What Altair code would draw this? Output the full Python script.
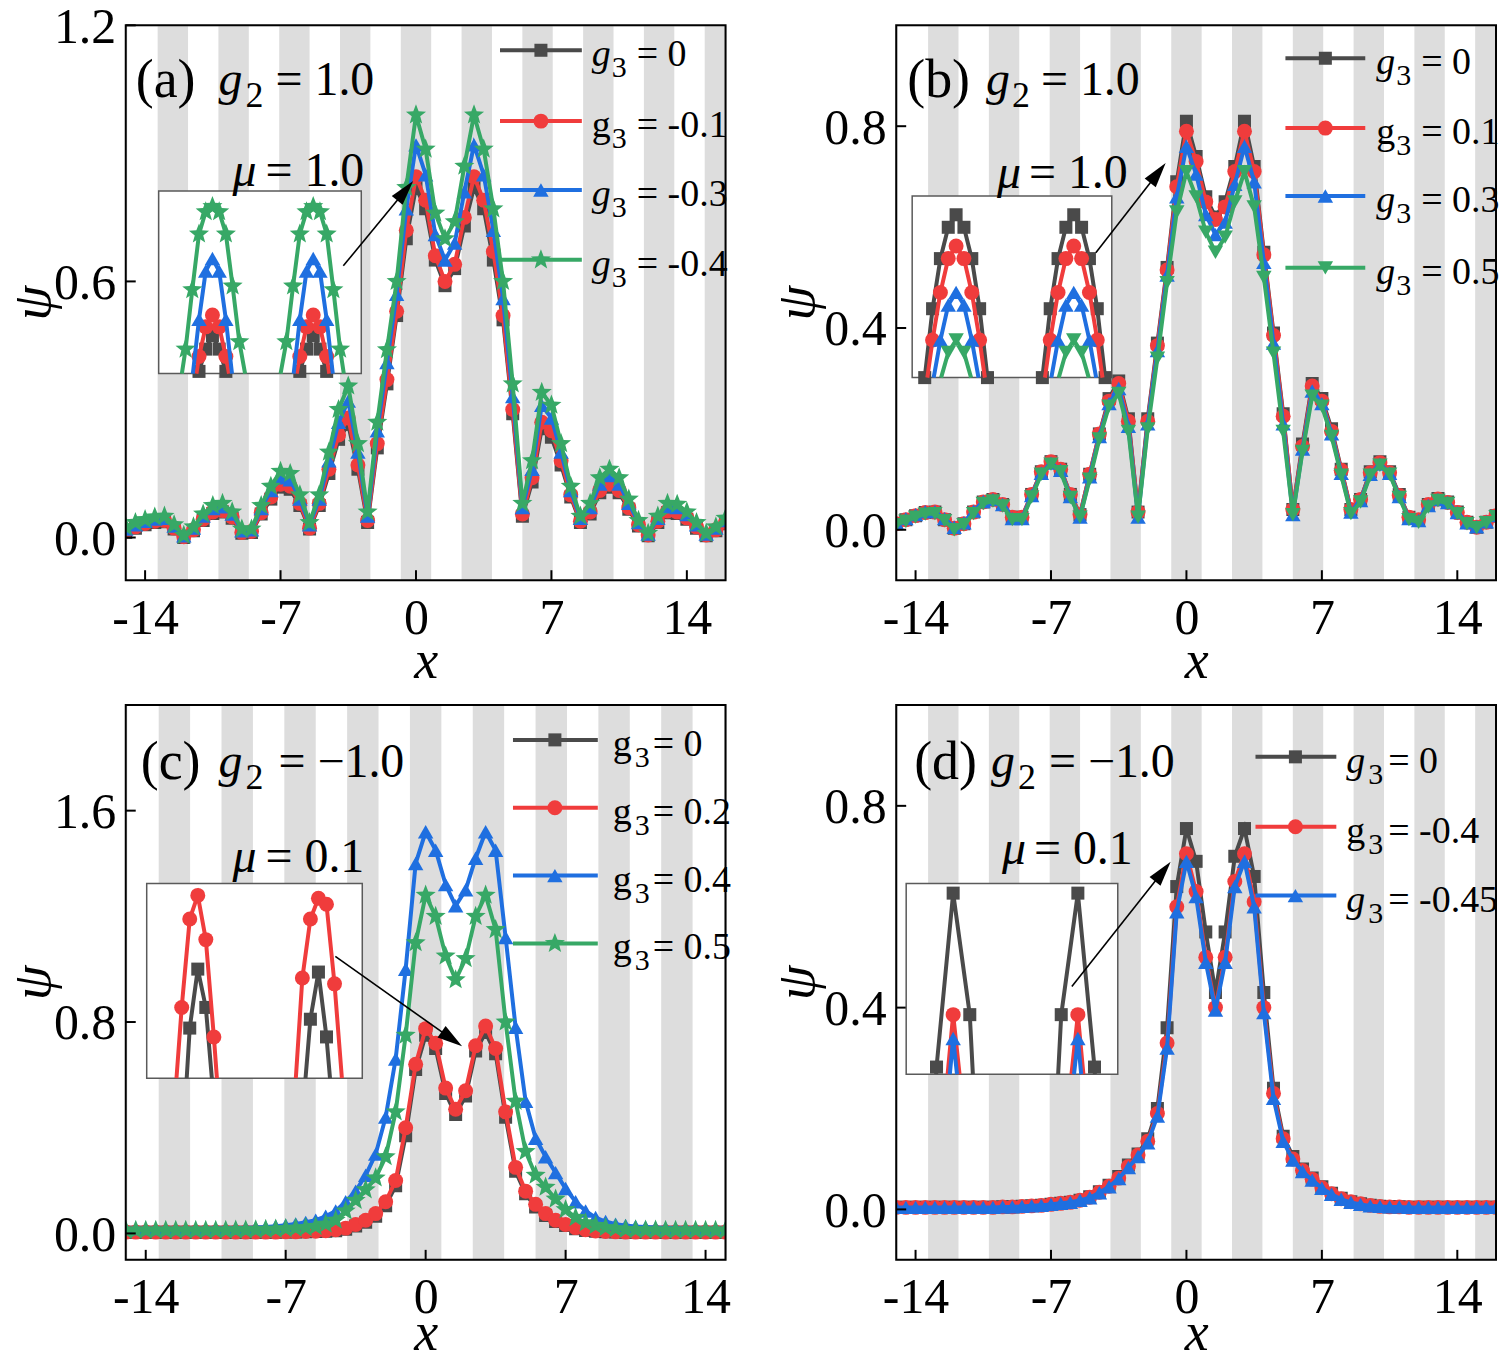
import math
import altair as alt
import pandas as pd

FONT = "Liberation Serif"
W, H = 601, 556
COLORS = {"dark": "#4a4a4a", "red": "#f03c3c", "blue": "#1f6fe0", "green": "#37a866"}
STRIPE = "#dddddd"
STAR = "M0,-1L0.25,-0.35L0.95,-0.31L0.4,0.13L0.59,0.81L0,0.42L-0.59,0.81L-0.4,0.13L-0.95,-0.31L-0.25,-0.35Z"
ARROWHEAD = "M0,-1L0.5,0.8L-0.5,0.8Z"
SHAPES = {"square": "square", "circle": "circle", "tri": "triangle-up", "tridown": "triangle-down", "star": STAR}
SIZES = {"square": 170, "circle": 225, "tri": 240, "tridown": 240, "star": 450}

XTICKS = [-14, -7, 0, 7, 14]
STRIPE_K = [-5, -4, -3, -2, -1, 0, 1, 2, 3, 4, 5]

# sampling grid of the curves (x)
X_ABD = [round(-15 + 0.5 * i, 1) for i in range(63)]
X_C = [round(-15 + 0.5 * i, 1) for i in range(61)]

# ---------------- panel (a): g2 = 1.0, mu = 1.0 ----------------
A_G3_0 = [0.012, 0.022, 0.030, 0.035, 0.037, 0.020, 0.000, 0.016, 0.040, 0.056,
          0.060, 0.045, 0.010, 0.012, 0.055, 0.090, 0.118, 0.113, 0.075, 0.020,
          0.075, 0.150, 0.230, 0.265, 0.160, 0.035, 0.210, 0.360, 0.520, 0.700,
          0.820, 0.770, 0.650, 0.590, 0.630, 0.730, 0.820, 0.770, 0.650, 0.510,
          0.290, 0.050, 0.130, 0.255, 0.235, 0.170, 0.095, 0.035, 0.055, 0.105,
          0.118, 0.105, 0.066, 0.027, 0.004, 0.035, 0.058, 0.056, 0.043, 0.022,
          0.004, 0.016, 0.032]
A_G3_M01 = [0.015, 0.025, 0.033, 0.038, 0.040, 0.022, 0.002, 0.018, 0.043, 0.060,
            0.063, 0.048, 0.012, 0.014, 0.058, 0.095, 0.125, 0.120, 0.080, 0.022,
            0.080, 0.160, 0.240, 0.280, 0.170, 0.040, 0.220, 0.370, 0.530, 0.720,
            0.845, 0.790, 0.660, 0.600, 0.640, 0.750, 0.845, 0.790, 0.670, 0.520,
            0.300, 0.055, 0.140, 0.270, 0.250, 0.180, 0.100, 0.038, 0.060, 0.110,
            0.125, 0.110, 0.070, 0.030, 0.006, 0.038, 0.062, 0.060, 0.046, 0.025,
            0.006, 0.018, 0.035]
A_G3_M03 = [0.020, 0.030, 0.038, 0.043, 0.045, 0.027, 0.004, 0.022, 0.050, 0.068,
            0.072, 0.055, 0.016, 0.018, 0.068, 0.110, 0.140, 0.135, 0.090, 0.030,
            0.090, 0.180, 0.270, 0.320, 0.200, 0.050, 0.250, 0.410, 0.570, 0.770,
            0.920, 0.850, 0.710, 0.650, 0.690, 0.810, 0.920, 0.850, 0.720, 0.560,
            0.330, 0.070, 0.160, 0.310, 0.280, 0.200, 0.110, 0.045, 0.070, 0.125,
            0.145, 0.125, 0.080, 0.035, 0.008, 0.045, 0.072, 0.070, 0.054, 0.030,
            0.008, 0.022, 0.040]
A_G3_M04 = [0.025, 0.035, 0.042, 0.048, 0.050, 0.030, 0.005, 0.025, 0.055, 0.075,
            0.080, 0.060, 0.020, 0.020, 0.075, 0.120, 0.155, 0.150, 0.100, 0.035,
            0.100, 0.200, 0.300, 0.355, 0.220, 0.060, 0.270, 0.440, 0.600, 0.820,
            0.990, 0.910, 0.760, 0.700, 0.740, 0.870, 0.990, 0.910, 0.770, 0.600,
            0.360, 0.080, 0.180, 0.340, 0.310, 0.220, 0.120, 0.050, 0.080, 0.140,
            0.160, 0.140, 0.090, 0.040, 0.010, 0.050, 0.080, 0.078, 0.060, 0.035,
            0.010, 0.025, 0.045]

# ---------------- panel (b): g2 = 1.0, mu = 1.0 ----------------
B_G3_0 = [0.012, 0.020, 0.028, 0.034, 0.035, 0.020, 0.003, 0.012, 0.035, 0.055,
          0.060, 0.050, 0.025, 0.025, 0.070, 0.115, 0.135, 0.120, 0.070, 0.030,
          0.110, 0.190, 0.260, 0.295, 0.220, 0.035, 0.220, 0.370, 0.520, 0.690,
          0.810, 0.740, 0.660, 0.620, 0.650, 0.720, 0.810, 0.720, 0.550, 0.390,
          0.230, 0.040, 0.170, 0.290, 0.260, 0.200, 0.120, 0.040, 0.060, 0.115,
          0.135, 0.115, 0.070, 0.025, 0.020, 0.050, 0.062, 0.055, 0.035, 0.015,
          0.005, 0.015, 0.028]
B_G3_01 = [0.012, 0.020, 0.028, 0.034, 0.035, 0.020, 0.003, 0.012, 0.035, 0.055,
           0.060, 0.050, 0.025, 0.025, 0.070, 0.115, 0.135, 0.120, 0.070, 0.030,
           0.110, 0.190, 0.255, 0.290, 0.215, 0.035, 0.215, 0.365, 0.515, 0.680,
           0.790, 0.730, 0.650, 0.615, 0.640, 0.710, 0.790, 0.710, 0.545, 0.385,
           0.225, 0.040, 0.165, 0.285, 0.255, 0.195, 0.118, 0.040, 0.060, 0.113,
           0.133, 0.113, 0.068, 0.025, 0.020, 0.050, 0.061, 0.054, 0.034, 0.015,
           0.005, 0.015, 0.028]
B_G3_03 = [0.014, 0.022, 0.030, 0.036, 0.036, 0.022, 0.005, 0.014, 0.037, 0.056,
           0.060, 0.050, 0.022, 0.022, 0.068, 0.112, 0.132, 0.118, 0.066, 0.025,
           0.105, 0.185, 0.250, 0.280, 0.205, 0.025, 0.210, 0.355, 0.505, 0.660,
           0.760, 0.705, 0.625, 0.585, 0.610, 0.685, 0.760, 0.690, 0.530, 0.370,
           0.210, 0.030, 0.160, 0.275, 0.250, 0.190, 0.112, 0.035, 0.058, 0.110,
           0.130, 0.112, 0.066, 0.022, 0.018, 0.048, 0.060, 0.054, 0.034, 0.014,
           0.006, 0.016, 0.028]
B_G3_05 = [0.010, 0.017, 0.025, 0.031, 0.032, 0.018, 0.000, 0.010, 0.032, 0.052,
           0.057, 0.047, 0.020, 0.020, 0.065, 0.110, 0.130, 0.115, 0.064, 0.025,
           0.100, 0.180, 0.245, 0.270, 0.195, 0.025, 0.200, 0.340, 0.490, 0.630,
           0.710, 0.660, 0.590, 0.550, 0.580, 0.650, 0.710, 0.640, 0.500, 0.350,
           0.195, 0.030, 0.155, 0.265, 0.245, 0.185, 0.108, 0.032, 0.055, 0.108,
           0.128, 0.110, 0.064, 0.020, 0.015, 0.045, 0.058, 0.052, 0.032, 0.012,
           0.004, 0.014, 0.026]

# ---------------- panel (c): g2 = -1.0, mu = 0.1 ----------------
C_G3_0 = [0.004, 0.004, 0.004, 0.004, 0.004, 0.004, 0.004, 0.004, 0.004, 0.004,
          0.004, 0.004, 0.004, 0.004, 0.004, 0.004, 0.005, 0.005, 0.006, 0.007,
          0.008, 0.010, 0.016, 0.028, 0.042, 0.065, 0.105, 0.180, 0.370, 0.620,
          0.750, 0.700, 0.530, 0.450, 0.520, 0.690, 0.760, 0.680, 0.440, 0.235,
          0.150, 0.100, 0.068, 0.045, 0.030, 0.018, 0.011, 0.008, 0.006, 0.005,
          0.004, 0.004, 0.004, 0.004, 0.004, 0.004, 0.004, 0.004, 0.004, 0.004,
          0.004]
C_G3_02 = [0.005, 0.005, 0.005, 0.005, 0.005, 0.005, 0.005, 0.005, 0.005, 0.005,
           0.005, 0.005, 0.005, 0.005, 0.005, 0.005, 0.006, 0.006, 0.007, 0.008,
           0.010, 0.014, 0.020, 0.034, 0.050, 0.075, 0.120, 0.200, 0.400, 0.640,
           0.775, 0.720, 0.550, 0.470, 0.540, 0.710, 0.785, 0.700, 0.460, 0.250,
           0.160, 0.110, 0.075, 0.050, 0.034, 0.022, 0.014, 0.009, 0.007, 0.006,
           0.005, 0.005, 0.005, 0.005, 0.005, 0.005, 0.005, 0.005, 0.005, 0.005,
           0.005]
C_G3_04 = [0.018, 0.018, 0.018, 0.018, 0.018, 0.018, 0.018, 0.018, 0.018, 0.019,
           0.019, 0.020, 0.021, 0.022, 0.024, 0.027, 0.031, 0.036, 0.042, 0.050,
           0.065, 0.085, 0.120, 0.160, 0.220, 0.300, 0.440, 0.660, 1.000, 1.400,
           1.520, 1.450, 1.320, 1.240, 1.300, 1.420, 1.520, 1.450, 1.120, 0.780,
           0.500, 0.360, 0.290, 0.230, 0.170, 0.120, 0.085, 0.060, 0.045, 0.035,
           0.030, 0.026, 0.024, 0.022, 0.021, 0.020, 0.019, 0.019, 0.018, 0.018,
           0.018]
C_G3_05 = [0.012, 0.012, 0.012, 0.012, 0.012, 0.012, 0.012, 0.012, 0.012, 0.012,
           0.012, 0.013, 0.013, 0.014, 0.015, 0.016, 0.018, 0.020, 0.022, 0.026,
           0.035, 0.050, 0.085, 0.125, 0.165, 0.210, 0.290, 0.460, 0.750, 1.100,
           1.280, 1.200, 1.050, 0.960, 1.040, 1.200, 1.280, 1.150, 0.800, 0.500,
           0.310, 0.220, 0.175, 0.130, 0.090, 0.060, 0.040, 0.030, 0.022, 0.018,
           0.015, 0.014, 0.013, 0.013, 0.012, 0.012, 0.012, 0.012, 0.012, 0.012,
           0.012]

# ---------------- panel (d): g2 = -1.0, mu = 0.1 ----------------
D_G3_0 = [0.004, 0.004, 0.004, 0.004, 0.004, 0.004, 0.004, 0.004, 0.004, 0.004,
          0.004, 0.005, 0.005, 0.006, 0.007, 0.008, 0.010, 0.012, 0.014, 0.018,
          0.025, 0.035, 0.048, 0.065, 0.088, 0.110, 0.140, 0.200, 0.360, 0.640,
          0.755, 0.690, 0.550, 0.430, 0.550, 0.700, 0.755, 0.660, 0.430, 0.240,
          0.145, 0.105, 0.080, 0.062, 0.045, 0.032, 0.022, 0.015, 0.011, 0.008,
          0.006, 0.005, 0.005, 0.004, 0.004, 0.004, 0.004, 0.004, 0.004, 0.004,
          0.004, 0.004, 0.004]
D_G3_M04 = [0.004, 0.004, 0.004, 0.004, 0.004, 0.004, 0.004, 0.004, 0.004, 0.004,
            0.004, 0.005, 0.005, 0.006, 0.007, 0.008, 0.010, 0.012, 0.014, 0.018,
            0.024, 0.034, 0.046, 0.062, 0.085, 0.108, 0.135, 0.190, 0.330, 0.600,
            0.705, 0.630, 0.500, 0.400, 0.500, 0.650, 0.705, 0.610, 0.400, 0.230,
            0.140, 0.100, 0.077, 0.060, 0.043, 0.031, 0.021, 0.015, 0.011, 0.008,
            0.006, 0.005, 0.005, 0.004, 0.004, 0.004, 0.004, 0.004, 0.004, 0.004,
            0.004, 0.004, 0.004]
D_G3_M045 = [0.004, 0.004, 0.004, 0.004, 0.004, 0.004, 0.004, 0.004, 0.004, 0.004,
             0.004, 0.005, 0.005, 0.006, 0.007, 0.008, 0.010, 0.012, 0.014, 0.018,
             0.023, 0.033, 0.045, 0.061, 0.083, 0.105, 0.132, 0.185, 0.320, 0.590,
             0.690, 0.620, 0.490, 0.395, 0.490, 0.640, 0.690, 0.600, 0.390, 0.220,
             0.135, 0.098, 0.075, 0.058, 0.042, 0.030, 0.020, 0.014, 0.010, 0.007,
             0.006, 0.005, 0.005, 0.004, 0.004, 0.004, 0.004, 0.004, 0.004, 0.004,
             0.004, 0.004, 0.004]

# ---------------- insets: zoom on the two central peaks ----------------
I_X = [-1.0, -0.8, -0.6, -0.4, -0.2, 0.0, 0.2, 0.4, 0.6, 0.8, 1.0,
       2.0, 2.2, 2.4, 2.6, 2.8, 3.0, 3.2, 3.4, 3.6, 3.8, 4.0]
IA_DARK = [0.59, 0.65, 0.72, 0.77, 0.80, 0.818, 0.80, 0.77, 0.73, 0.66, 0.60,
           0.60, 0.66, 0.73, 0.77, 0.80, 0.818, 0.80, 0.77, 0.72, 0.65, 0.59]
IA_RED = [0.60, 0.66, 0.73, 0.79, 0.83, 0.846, 0.83, 0.79, 0.74, 0.67, 0.61,
          0.61, 0.67, 0.74, 0.79, 0.83, 0.846, 0.83, 0.79, 0.73, 0.66, 0.60]
IA_BLUE = [0.55, 0.66, 0.76, 0.84, 0.905, 0.922, 0.905, 0.84, 0.76, 0.67, 0.56,
           0.56, 0.67, 0.76, 0.84, 0.905, 0.922, 0.905, 0.84, 0.76, 0.66, 0.55]
IA_GREEN = [0.74, 0.80, 0.88, 0.955, 0.985, 0.992, 0.985, 0.955, 0.885, 0.81, 0.76,
            0.76, 0.81, 0.885, 0.955, 0.985, 0.992, 0.985, 0.955, 0.88, 0.80, 0.74]
IB_DARK = [0.62, 0.68, 0.735, 0.775, 0.80, 0.81, 0.80, 0.775, 0.735, 0.68, 0.62,
           0.62, 0.68, 0.735, 0.775, 0.80, 0.81, 0.80, 0.775, 0.735, 0.68, 0.62]
IB_RED = [0.61, 0.665, 0.71, 0.748, 0.775, 0.785, 0.775, 0.748, 0.71, 0.665, 0.61,
          0.61, 0.665, 0.71, 0.748, 0.775, 0.785, 0.775, 0.748, 0.71, 0.665, 0.61]
IB_BLUE = [0.57, 0.63, 0.675, 0.71, 0.738, 0.748, 0.738, 0.71, 0.675, 0.63, 0.57,
           0.57, 0.63, 0.675, 0.71, 0.738, 0.748, 0.738, 0.71, 0.675, 0.63, 0.57]
IB_GREEN = [0.55, 0.60, 0.645, 0.678, 0.70, 0.71, 0.70, 0.678, 0.645, 0.60, 0.55,
            0.55, 0.60, 0.645, 0.678, 0.70, 0.71, 0.70, 0.678, 0.645, 0.60, 0.55]
IC_DARK = [0.50, 0.57, 0.64, 0.69, 0.735, 0.755, 0.742, 0.71, 0.66, 0.60, 0.54,
           0.54, 0.60, 0.66, 0.705, 0.738, 0.754, 0.732, 0.70, 0.65, 0.59, 0.52]
IC_RED = [0.62, 0.66, 0.705, 0.742, 0.772, 0.780, 0.765, 0.732, 0.695, 0.65, 0.60,
          0.62, 0.67, 0.71, 0.752, 0.772, 0.779, 0.777, 0.750, 0.715, 0.67, 0.62]
ID_X = [-1.2, -0.8, -0.4, 0.0, 0.4, 0.8, 2.2, 2.6, 3.0, 3.4, 3.8]
ID_DARK = [0.45, 0.55, 0.683, 0.756, 0.705, 0.57, 0.57, 0.705, 0.756, 0.683, 0.55]
ID_RED = [0.42, 0.52, 0.63, 0.705, 0.64, 0.53, 0.53, 0.64, 0.705, 0.63, 0.52]
ID_BLUE = [0.41, 0.51, 0.62, 0.695, 0.63, 0.52, 0.52, 0.63, 0.695, 0.62, 0.51]

NEG = "datum.value < 0 ? '-' + abs(datum.value) : '' + datum.value"

PANELS = [
    dict(x=X_ABD, xdom=[-15, 16], ydom=[-0.1, 1.2], yticks=[0, 0.6, 1.2], psix=-93, titley=97,
         series=[("dark", "square", A_G3_0), ("red", "circle", A_G3_M01),
                 ("blue", "tri", A_G3_M03), ("green", "star", A_G3_M04)],
         inset=dict(px=[33, 236], py=[166, 349], xd=[-1.6, 4.43], yd=[0.767, 1.013], x=I_X,
                    series=[("dark", "square", IA_DARK), ("red", "circle", IA_RED),
                            ("blue", "tri", IA_BLUE), ("green", "star", IA_GREEN)]),
         legend=dict(x0=375, x1=457, xm=416, ys=[25, 96, 165, 235], gx=467, sx=487, ex=512,
                     eqs=["= 0", "= -0.1", "= -0.3", "= -0.4"], ital=[True, False, True, True]),
         texts=[("(a)", 10, 72, 54, False), ("g", 93, 70, 48, True), ("2", 120, 82, 36, False),
                ("= 1.0", 150, 70, 48, False), ("\u03bc", 107, 161, 48, True), ("= 1.0", 140, 161, 48, False)],
         arrow=[218, 241, 288, 156]),
    dict(x=X_ABD, xdom=[-15, 16], ydom=[-0.1, 1.0], yticks=[0, 0.4, 0.8], psix=-100, titley=97,
         series=[("dark", "square", B_G3_0), ("red", "circle", B_G3_01),
                 ("blue", "tri", B_G3_03), ("green", "tridown", B_G3_05)],
         inset=dict(px=[16, 216], py=[171, 353], xd=[-1.12, 3.97], yd=[0.68, 0.825], x=I_X,
                    series=[("dark", "square", IB_DARK), ("red", "circle", IB_RED),
                            ("blue", "tri", IB_BLUE), ("green", "tridown", IB_GREEN)]),
         legend=dict(x0=390, x1=470, xm=430, ys=[33, 103, 171, 243], gx=481, sx=501, ex=526,
                     eqs=["= 0", "= 0.1", "= 0.3", "= 0.5"], ital=[True, False, True, True]),
         texts=[("(b)", 11, 72, 54, False), ("g", 90, 70, 48, True), ("2", 116, 82, 36, False),
                ("= 1.0", 145, 70, 48, False), ("\u03bc", 101, 163, 48, True), ("= 1.0", 133, 163, 48, False)],
         arrow=[200, 228, 270, 138]),
    dict(x=X_C, xdom=[-15, 15], ydom=[-0.1, 2.0], yticks=[0, 0.8, 1.6], psix=-93, titley=90,
         series=[("dark", "square", C_G3_0), ("red", "circle", C_G3_02),
                 ("blue", "tri", C_G3_04), ("green", "star", C_G3_05)],
         inset=dict(px=[21, 237], py=[179, 374], xd=[-1.27, 4.09], yd=[0.718, 0.784], x=I_X,
                    series=[("dark", "square", IC_DARK), ("red", "circle", IC_RED)]),
         legend=dict(x0=388, x1=473, xm=430, ys=[35, 103, 171, 239], gx=488, sx=510, ex=528,
                     eqs=["= 0", "= 0.2", "= 0.4", "= 0.5"], ital=[False, False, False, False]),
         texts=[("(c)", 15, 74, 54, False), ("g", 93, 72, 48, True), ("2", 120, 84, 36, False),
                ("= \u22121.0", 153, 72, 48, False), ("\u03bc", 107, 167, 48, True), ("= 0.1", 140, 167, 48, False)],
         arrow=[210, 252, 337, 342]),
    dict(x=X_ABD, xdom=[-15, 16], ydom=[-0.1, 1.0], yticks=[0, 0.4, 0.8], psix=-100, titley=90,
         series=[("dark", "square", D_G3_0), ("red", "circle", D_G3_M04),
                 ("blue", "tri", D_G3_M045)],
         inset=dict(px=[10, 222], py=[179, 370], xd=[-1.13, 3.96], yd=[0.68, 0.76], x=ID_X,
                    series=[("dark", "square", ID_DARK), ("red", "circle", ID_RED),
                            ("blue", "tri", ID_BLUE)]),
         legend=dict(x0=360, x1=441, xm=400, ys=[52, 122, 191], gx=451, sx=473, ex=493,
                     eqs=["= 0", "= -0.4", "= -0.45"], ital=[True, False, True]),
         texts=[("(d)", 18, 74, 54, False), ("g", 95, 72, 48, True), ("2", 122, 84, 36, False),
                ("= \u22121.0", 153, 72, 48, False), ("\u03bc", 106, 159, 48, True), ("= 0.1", 138, 159, 48, False)],
         arrow=[176, 282, 275, 157]),
]


def clip_seg(p0, p1, xmin, xmax, ymin, ymax):
    x0, y0 = p0
    x1, y1 = p1
    dx, dy = x1 - x0, y1 - y0
    t0, t1 = 0.0, 1.0
    for p, q in ((-dx, x0 - xmin), (dx, xmax - x0), (-dy, y0 - ymin), (dy, ymax - y0)):
        if p == 0:
            if q < 0:
                return None
        else:
            t = q / p
            if p < 0:
                if t > t1:
                    return None
                t0 = max(t0, t)
            else:
                if t < t0:
                    return None
                t1 = min(t1, t)
    return (x0 + t0 * dx, y0 + t0 * dy), (x0 + t1 * dx, y0 + t1 * dy)


def clip_runs(xs, ys, box):
    runs, cur = [], []
    for i in range(len(xs) - 1):
        r = clip_seg((xs[i], ys[i]), (xs[i + 1], ys[i + 1]), *box)
        if r is None:
            if cur:
                runs.append(cur)
                cur = []
            continue
        a, b = r
        if cur and abs(cur[-1][0] - a[0]) < 1e-9 and abs(cur[-1][1] - a[1]) < 1e-9:
            cur.append(b)
        else:
            if cur:
                runs.append(cur)
            cur = [a, b]
    if cur:
        runs.append(cur)
    return runs


def build_panel(p):
    xsc = alt.Scale(domain=p["xdom"], nice=False, zero=False)
    ysc = alt.Scale(domain=p["ydom"], nice=False, zero=False)
    xax = alt.Axis(values=XTICKS, tickSize=0, domain=False, grid=False, labelFont=FONT,
                   labelFontSize=50, labelColor="black", labelPadding=13, labelExpr=NEG,
                   labelFlush=False, labelOverlap=False, title="x", titleFont=FONT,
                   titleFontSize=54, titleFontStyle="italic", titleFontWeight="normal",
                   titleColor="black", titleBaseline="alphabetic", titleY=p["titley"])
    yax = alt.Axis(values=p["yticks"], format=".1f", tickSize=0, domain=False, grid=False,
                   labelFont=FONT, labelFontSize=50, labelColor="black", labelPadding=10,
                   labelBaseline="alphabetic", labelOffset=17,
                   labelFlush=False, labelOverlap=False, title="\u03c8", titleFont=FONT,
                   titleFontSize=56, titleFontStyle="italic", titleFontWeight="normal",
                   titleColor="black", titleAngle=270, titleX=p["psix"], titleY=H / 2,
                   titleAlign="center", titleBaseline="middle")

    def X(f):
        return alt.X(f, type="quantitative", scale=xsc, axis=xax)

    def Y(f):
        return alt.Y(f, type="quantitative", scale=ysc, axis=yax)

    sdf = pd.DataFrame({"x1": [k * math.pi - math.pi / 4 for k in STRIPE_K],
                        "x2": [k * math.pi + math.pi / 4 for k in STRIPE_K]})
    main = [alt.Chart(sdf).mark_rect(color=STRIPE, clip=True).encode(
        x=X("x1"), x2="x2:Q", y=alt.value(0), y2=alt.value(H))]
    for col, shp, vals in p["series"]:
        df = pd.DataFrame({"x": p["x"], "v": vals})
        main.append(alt.Chart(df).mark_line(color=COLORS[col], strokeWidth=4, clip=True)
                    .encode(x=X("x"), y=Y("v")))
        main.append(alt.Chart(df).mark_point(shape=SHAPES[shp], size=SIZES[shp], filled=True,
                                             opacity=1, color=COLORS[col], clip=True)
                    .encode(x=X("x"), y=Y("v")))
    tx = pd.DataFrame({"t": XTICKS})
    ty = pd.DataFrame({"t": p["yticks"]})
    main.append(alt.Chart(tx).mark_rule(color="black", strokeWidth=2).encode(
        x=X("t"), y=alt.value(H - 10), y2=alt.value(H)))
    main.append(alt.Chart(ty).mark_rule(color="black", strokeWidth=2).encode(
        y=Y("t"), x=alt.value(0), x2=alt.value(10)))
    main_layer = alt.layer(*main)

    # inset (zoom of the two central peaks)
    ins = p["inset"]
    isx = alt.Scale(domain=ins["xd"], range=ins["px"], nice=False, zero=False)
    isy = alt.Scale(domain=ins["yd"], range=[ins["py"][1], ins["py"][0]], nice=False, zero=False)

    def IX(f):
        return alt.X(f, type="quantitative", scale=isx, axis=None)

    def IY(f):
        return alt.Y(f, type="quantitative", scale=isy, axis=None)

    fdf = pd.DataFrame({"a": [ins["xd"][0]], "b": [ins["xd"][1]], "c": [ins["yd"][0]], "d": [ins["yd"][1]]})
    inset = [alt.Chart(fdf).mark_rect(fill="white", stroke="#5a5a5a", strokeWidth=1.5).encode(
        x=IX("a"), x2="b:Q", y=IY("c"), y2="d:Q")]
    box = (ins["xd"][0], ins["xd"][1], ins["yd"][0], ins["yd"][1])
    for col, shp, vals in ins["series"]:
        runs = clip_runs(ins["x"], vals, box)
        rows = []
        for ri, run in enumerate(runs):
            for oi, (xx, yy) in enumerate(run):
                rows.append({"x": xx, "v": yy, "run": ri, "o": oi})
        if rows:
            ldf = pd.DataFrame(rows)
            inset.append(alt.Chart(ldf).mark_line(color=COLORS[col], strokeWidth=4).encode(
                x=IX("x"), y=IY("v"), detail="run:N", order="o:Q"))
        pts = [{"x": xx, "v": yy} for xx, yy in zip(ins["x"], vals)
               if box[0] <= xx <= box[1] and box[2] <= yy <= box[3]]
        if pts:
            inset.append(alt.Chart(pd.DataFrame(pts)).mark_point(
                shape=SHAPES[shp], size=SIZES[shp], filled=True, opacity=1, color=COLORS[col])
                .encode(x=IX("x"), y=IY("v")))
    inset_layer = alt.layer(*inset)

    # overlay: frame, legend, labels, arrow (pixel coordinates of the plot area)
    ox = alt.Scale(domain=[0, W], range=[0, W], nice=False, zero=False)
    oy = alt.Scale(domain=[0, H], range=[0, H], nice=False, zero=False)

    def OX(f):
        return alt.X(f, type="quantitative", scale=ox, axis=None)

    def OY(f):
        return alt.Y(f, type="quantitative", scale=oy, axis=None)

    lg = p["legend"]
    lrows, trows = [], []
    for (col, shp, _), ly, eq, it in zip(p["series"], lg["ys"], lg["eqs"], lg["ital"]):
        lrows.append({"x0": lg["x0"], "x1": lg["x1"], "xm": lg["xm"], "y": ly,
                      "col": COLORS[col], "shp": SHAPES[shp], "sz": SIZES[shp]})
        trows.append({"tx": lg["gx"], "ty": ly + 16, "t": "g", "fs": 38, "it": it})
        trows.append({"tx": lg["sx"], "ty": ly + 27, "t": "3", "fs": 30, "it": False})
        trows.append({"tx": lg["ex"], "ty": ly + 16, "t": eq, "fs": 38, "it": False})
    for t, xx, yy, fs, it in p["texts"]:
        trows.append({"tx": xx, "ty": yy, "t": t, "fs": fs, "it": it})
    ldf = pd.DataFrame(lrows)
    tdf = pd.DataFrame(trows)
    ax0, ay0, ax1, ay1 = p["arrow"]
    L = math.hypot(ax1 - ax0, ay1 - ay0)
    ux, uy = (ax1 - ax0) / L, (ay1 - ay0) / L
    cx, cy = ax1 - 14 * ux, ay1 - 14 * uy
    ang = math.degrees(math.atan2(ux, -uy)) % 360
    adf = pd.DataFrame({"x0": [ax0], "y0": [ay0], "x1": [cx], "y1": [cy]})

    over = [
        alt.Chart(ldf).mark_rule(strokeWidth=4).encode(
            x=OX("x0"), x2="x1:Q", y=OY("y"), color=alt.Color("col:N", scale=None)),
        alt.Chart(ldf).mark_point(filled=True, opacity=1).encode(
            x=OX("xm"), y=OY("y"), color=alt.Color("col:N", scale=None),
            shape=alt.Shape("shp:N", scale=None), size=alt.Size("sz:Q", scale=None)),
        alt.Chart(tdf).transform_filter("!datum.it").mark_text(
            font=FONT, align="left", baseline="alphabetic", color="black").encode(
            x=OX("tx"), y=OY("ty"), text="t:N", size=alt.Size("fs:Q", scale=None)),
        alt.Chart(tdf).transform_filter("datum.it").mark_text(
            font=FONT, fontStyle="italic", align="left", baseline="alphabetic", color="black").encode(
            x=OX("tx"), y=OY("ty"), text="t:N", size=alt.Size("fs:Q", scale=None)),
        alt.Chart(adf).mark_rule(color="black", strokeWidth=1.6).encode(
            x=OX("x0"), x2="x1:Q", y=OY("y0"), y2="y1:Q"),
        alt.Chart(adf).mark_point(shape=ARROWHEAD, size=784, filled=True, opacity=1,
                                  color="black", angle=ang).encode(x=OX("x1"), y=OY("y1")),
        alt.Chart(pd.DataFrame({"a": [0], "b": [W], "c": [0], "d": [H]})).mark_rect(
            filled=False, stroke="black", strokeWidth=2).encode(
            x=OX("a"), x2="b:Q", y=OY("c"), y2="d:Q"),
    ]
    over_layer = alt.layer(*over)

    return alt.layer(main_layer, inset_layer, over_layer).resolve_scale(
        x="independent", y="independent").properties(width=W, height=H)


charts = [build_panel(p) for p in PANELS]
chart = alt.concat(*charts, columns=2, spacing={"row": 125, "column": 171}, bounds="flush").properties(
    padding={"left": 4, "top": 0, "right": 0, "bottom": 0}
).configure_view(stroke="transparent").configure_axis(
    labelFont=FONT, titleFont=FONT
).configure(background="white")

chart.save("out.html", embed_options={"renderer": "svg", "actions": False})
